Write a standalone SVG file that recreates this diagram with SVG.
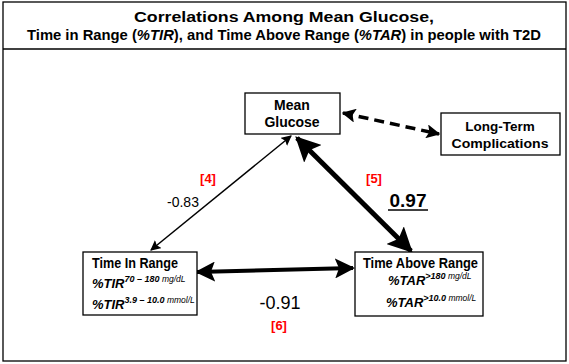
<svg xmlns="http://www.w3.org/2000/svg" width="569" height="364" viewBox="0 0 569 364">
<style>
text{font-family:"Liberation Sans",Arial,sans-serif;fill:#000}
.b{font-weight:bold}
.box{fill:#fff;stroke:#000;stroke-width:1.3}
.red{fill:#ff0000;font-weight:bold;font-size:13px}
.bi{font-weight:bold;font-style:italic}
</style>
<defs>
<marker id="ah" viewBox="0 0 10 10" refX="9" refY="5" markerWidth="5" markerHeight="5" orient="auto-start-reverse" markerUnits="strokeWidth"><path d="M0,0 L10,5 L0,10 L2,5 Z" fill="#000"/></marker>
<marker id="ahT" viewBox="0 0 10 10" refX="9" refY="5" markerWidth="7" markerHeight="7" orient="auto-start-reverse" markerUnits="strokeWidth"><path d="M0,0 L10,5 L0,10 L2,5 Z" fill="#000"/></marker>
<marker id="ahD" viewBox="0 0 10 10" refX="9" refY="5" markerWidth="4" markerHeight="4" orient="auto-start-reverse" markerUnits="strokeWidth"><path d="M0,0 L10,5 L0,10 L2,5 Z" fill="#000"/></marker>
</defs>
<rect x="0" y="0" width="569" height="364" fill="#fff"/>
<g id="frame">
<rect x="3" y="2" width="563" height="359" fill="none" stroke="#000" stroke-width="1.3"/>
<line x1="3" y1="49" x2="566" y2="49" stroke="#000" stroke-width="1.3"/>
</g>
<g id="title" text-anchor="middle">
<text x="284" y="22" class="b" font-size="14" textLength="300" lengthAdjust="spacingAndGlyphs">Correlations Among Mean Glucose,</text>
<text x="284" y="40" class="b" font-size="14" textLength="514" lengthAdjust="spacingAndGlyphs">Time in Range (<tspan font-style="italic">%TIR</tspan>), and Time Above Range (<tspan font-style="italic">%TAR</tspan>) in people with T2D</text>
</g>
<g id="connectors" fill="none" stroke="#000">
<line x1="291" y1="136" x2="151" y2="250" stroke-width="1.5" marker-start="url(#ahT)" marker-end="url(#ahT)"/>
<line x1="297" y1="138" x2="411" y2="251" stroke-width="5" marker-start="url(#ah)" marker-end="url(#ah)"/>
<line x1="197" y1="272" x2="353" y2="268" stroke-width="4" marker-start="url(#ah)" marker-end="url(#ah)"/>
<line x1="343" y1="113" x2="439" y2="134" stroke-width="3.5" stroke-dasharray="10,6" marker-start="url(#ahD)" marker-end="url(#ahD)"/>
</g>
<g id="mean-glucose">
<rect class="box" x="245" y="93" width="95" height="41"/>
<text x="292" y="110" class="b" font-size="14" text-anchor="middle">Mean</text>
<text x="292" y="127" class="b" font-size="14" text-anchor="middle">Glucose</text>
</g>
<g id="long-term">
<rect class="box" x="441" y="113" width="119" height="42"/>
<text x="500" y="131" class="b" font-size="13.5" text-anchor="middle">Long-Term</text>
<text x="500" y="148" class="b" font-size="13.5" text-anchor="middle" textLength="97" lengthAdjust="spacingAndGlyphs">Complications</text>
</g>
<g id="time-in-range">
<rect class="box" x="83" y="252" width="114" height="63"/>
<text x="92" y="268" class="b" font-size="15" textLength="86" lengthAdjust="spacingAndGlyphs">Time In Range</text>
<text x="92" y="288" class="bi" font-size="13">%TIR<tspan font-size="9" dy="-6">70 – 180</tspan><tspan font-size="8.5" font-weight="normal"> mg/dL</tspan></text>
<text x="92" y="309" class="bi" font-size="13">%TIR<tspan font-size="9" dy="-6">3.9 – 10.0</tspan><tspan font-size="8.5" font-weight="normal"> mmol/L</tspan></text>
</g>
<g id="time-above-range">
<rect class="box" x="355" y="252" width="128" height="64"/>
<text x="363" y="268" class="b" font-size="15" textLength="115" lengthAdjust="spacingAndGlyphs">Time Above Range</text>
<text x="388" y="285" class="bi" font-size="13">%TAR<tspan font-size="9" dy="-6">&gt;180</tspan><tspan font-size="8.5" font-weight="normal"> mg/dL</tspan></text>
<text x="386" y="307" class="bi" font-size="13">%TAR<tspan font-size="9" dy="-6">&gt;10.0</tspan><tspan font-size="8.5" font-weight="normal"> mmol/L</tspan></text>
</g>
<g id="labels">
<text x="208" y="183" class="red" text-anchor="middle">[4]</text>
<text x="183" y="207" font-size="14" text-anchor="middle">-0.83</text>
<text x="374" y="183" class="red" text-anchor="middle">[5]</text>
<text x="408" y="207" class="b" font-size="19" text-anchor="middle">0.97</text>
<line x1="388" y1="210" x2="428" y2="210" stroke="#000" stroke-width="1.5"/>
<text x="280" y="309" font-size="18" text-anchor="middle">-0.91</text>
<text x="279" y="330" class="red" font-size="14" text-anchor="middle">[6]</text>
</g>
</svg>
